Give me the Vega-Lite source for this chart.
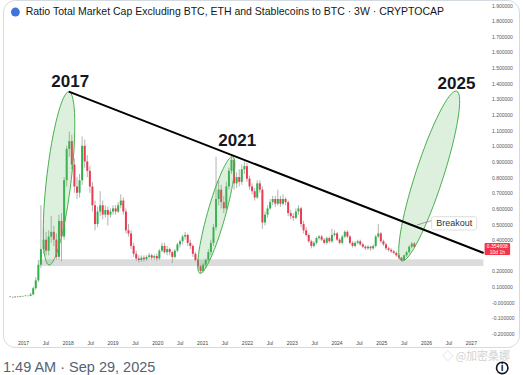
{
  "$schema": "https://vega.github.io/schema/vega-lite/v6.json",
  "width": 516,
  "height": 347,
  "padding": {"left": 3, "top": 0, "right": 4, "bottom": 0},
  "background": "white",
  "config": {
    "view": {"stroke": "#d3dbe0", "cornerRadius": 12},
    "font": "Liberation Sans",
    "axis": {"grid": false, "ticks": false, "domain": false, "labelFontSize": 5, "labelColor": "#555555", "labelOverlap": false, "labelFlush": false}
  },
  "title": {"text": "1:49 AM · Sep 29, 2025", "orient": "bottom", "anchor": "start", "fontSize": 14.5, "fontWeight": "normal", "color": "#536471", "font": "Liberation Sans", "offset": -15.5},
  "datasets": {
    "candles": [
      {"t":2016.710,"o":0.036,"h":0.039,"l":0.031,"c":0.034},
      {"t":2016.768,"o":0.034,"h":0.037,"l":0.029,"c":0.032},
      {"t":2016.825,"o":0.032,"h":0.039,"l":0.030,"c":0.036},
      {"t":2016.883,"o":0.036,"h":0.038,"l":0.031,"c":0.034},
      {"t":2016.940,"o":0.034,"h":0.041,"l":0.032,"c":0.038},
      {"t":2016.998,"o":0.038,"h":0.043,"l":0.035,"c":0.040},
      {"t":2017.055,"o":0.040,"h":0.046,"l":0.037,"c":0.042},
      {"t":2017.113,"o":0.042,"h":0.045,"l":0.036,"c":0.041},
      {"t":2017.170,"o":0.041,"h":0.060,"l":0.039,"c":0.050},
      {"t":2017.228,"o":0.050,"h":0.10,"l":0.045,"c":0.09},
      {"t":2017.285,"o":0.09,"h":0.16,"l":0.08,"c":0.14},
      {"t":2017.343,"o":0.14,"h":0.27,"l":0.13,"c":0.24},
      {"t":2017.400,"o":0.24,"h":0.62,"l":0.22,"c":0.34},
      {"t":2017.458,"o":0.34,"h":0.47,"l":0.31,"c":0.40},
      {"t":2017.515,"o":0.40,"h":0.45,"l":0.30,"c":0.33},
      {"t":2017.573,"o":0.33,"h":0.46,"l":0.30,"c":0.42},
      {"t":2017.630,"o":0.42,"h":0.55,"l":0.38,"c":0.45},
      {"t":2017.688,"o":0.45,"h":0.49,"l":0.36,"c":0.40},
      {"t":2017.745,"o":0.40,"h":0.44,"l":0.27,"c":0.29},
      {"t":2017.803,"o":0.29,"h":0.56,"l":0.27,"c":0.52},
      {"t":2017.860,"o":0.52,"h":0.57,"l":0.26,"c":0.42},
      {"t":2017.918,"o":0.42,"h":0.80,"l":0.40,"c":0.78},
      {"t":2017.975,"o":0.78,"h":1.00,"l":0.74,"c":0.98},
      {"t":2018.033,"o":0.98,"h":1.09,"l":0.93,"c":1.03},
      {"t":2018.090,"o":1.03,"h":1.07,"l":0.85,"c":0.88},
      {"t":2018.148,"o":0.88,"h":0.92,"l":0.70,"c":0.74},
      {"t":2018.205,"o":0.74,"h":0.80,"l":0.66,"c":0.70},
      {"t":2018.263,"o":0.70,"h":0.82,"l":0.67,"c":0.78},
      {"t":2018.320,"o":0.78,"h":1.06,"l":0.75,"c":1.00},
      {"t":2018.378,"o":1.00,"h":1.04,"l":0.86,"c":0.90},
      {"t":2018.435,"o":0.90,"h":0.94,"l":0.80,"c":0.84},
      {"t":2018.493,"o":0.84,"h":0.87,"l":0.70,"c":0.74},
      {"t":2018.550,"o":0.74,"h":0.77,"l":0.58,"c":0.62},
      {"t":2018.608,"o":0.62,"h":0.65,"l":0.46,"c":0.50},
      {"t":2018.665,"o":0.50,"h":0.61,"l":0.48,"c":0.58},
      {"t":2018.723,"o":0.58,"h":0.71,"l":0.55,"c":0.62},
      {"t":2018.780,"o":0.62,"h":0.65,"l":0.53,"c":0.56},
      {"t":2018.838,"o":0.56,"h":0.62,"l":0.54,"c":0.59},
      {"t":2018.895,"o":0.59,"h":0.61,"l":0.49,"c":0.56},
      {"t":2018.953,"o":0.56,"h":0.60,"l":0.54,"c":0.58},
      {"t":2019.010,"o":0.58,"h":0.62,"l":0.56,"c":0.60},
      {"t":2019.068,"o":0.60,"h":0.62,"l":0.56,"c":0.58},
      {"t":2019.125,"o":0.58,"h":0.64,"l":0.57,"c":0.62},
      {"t":2019.183,"o":0.62,"h":0.69,"l":0.60,"c":0.65},
      {"t":2019.240,"o":0.65,"h":0.67,"l":0.56,"c":0.58},
      {"t":2019.298,"o":0.58,"h":0.60,"l":0.44,"c":0.46},
      {"t":2019.355,"o":0.46,"h":0.50,"l":0.42,"c":0.44},
      {"t":2019.413,"o":0.44,"h":0.46,"l":0.34,"c":0.36},
      {"t":2019.470,"o":0.36,"h":0.38,"l":0.29,"c":0.31},
      {"t":2019.528,"o":0.31,"h":0.33,"l":0.265,"c":0.28},
      {"t":2019.585,"o":0.28,"h":0.30,"l":0.255,"c":0.27},
      {"t":2019.643,"o":0.27,"h":0.30,"l":0.26,"c":0.285},
      {"t":2019.700,"o":0.285,"h":0.30,"l":0.26,"c":0.275},
      {"t":2019.758,"o":0.275,"h":0.30,"l":0.265,"c":0.29},
      {"t":2019.815,"o":0.29,"h":0.315,"l":0.275,"c":0.30},
      {"t":2019.873,"o":0.30,"h":0.31,"l":0.27,"c":0.285},
      {"t":2019.930,"o":0.285,"h":0.305,"l":0.27,"c":0.295},
      {"t":2019.988,"o":0.295,"h":0.31,"l":0.265,"c":0.28},
      {"t":2020.045,"o":0.28,"h":0.34,"l":0.27,"c":0.33},
      {"t":2020.103,"o":0.33,"h":0.38,"l":0.32,"c":0.36},
      {"t":2020.160,"o":0.36,"h":0.38,"l":0.31,"c":0.32},
      {"t":2020.218,"o":0.32,"h":0.36,"l":0.30,"c":0.34},
      {"t":2020.275,"o":0.34,"h":0.35,"l":0.30,"c":0.32},
      {"t":2020.333,"o":0.32,"h":0.33,"l":0.25,"c":0.29},
      {"t":2020.390,"o":0.29,"h":0.34,"l":0.28,"c":0.33},
      {"t":2020.448,"o":0.33,"h":0.38,"l":0.32,"c":0.37},
      {"t":2020.505,"o":0.37,"h":0.40,"l":0.35,"c":0.39},
      {"t":2020.563,"o":0.39,"h":0.43,"l":0.37,"c":0.42},
      {"t":2020.620,"o":0.42,"h":0.45,"l":0.40,"c":0.43},
      {"t":2020.678,"o":0.43,"h":0.44,"l":0.36,"c":0.38},
      {"t":2020.735,"o":0.38,"h":0.40,"l":0.34,"c":0.36},
      {"t":2020.793,"o":0.36,"h":0.37,"l":0.29,"c":0.31},
      {"t":2020.850,"o":0.31,"h":0.32,"l":0.26,"c":0.27},
      {"t":2020.908,"o":0.27,"h":0.28,"l":0.21,"c":0.23},
      {"t":2020.965,"o":0.23,"h":0.24,"l":0.185,"c":0.20},
      {"t":2021.023,"o":0.20,"h":0.25,"l":0.19,"c":0.24},
      {"t":2021.080,"o":0.24,"h":0.28,"l":0.22,"c":0.27},
      {"t":2021.138,"o":0.27,"h":0.34,"l":0.26,"c":0.32},
      {"t":2021.195,"o":0.32,"h":0.40,"l":0.30,"c":0.38},
      {"t":2021.253,"o":0.38,"h":0.50,"l":0.36,"c":0.48},
      {"t":2021.310,"o":0.48,"h":0.93,"l":0.46,"c":0.66},
      {"t":2021.368,"o":0.66,"h":0.78,"l":0.62,"c":0.72},
      {"t":2021.425,"o":0.72,"h":0.75,"l":0.60,"c":0.64},
      {"t":2021.483,"o":0.64,"h":0.68,"l":0.57,"c":0.60},
      {"t":2021.540,"o":0.60,"h":0.77,"l":0.58,"c":0.74},
      {"t":2021.598,"o":0.74,"h":0.86,"l":0.72,"c":0.84},
      {"t":2021.655,"o":0.84,"h":0.93,"l":0.82,"c":0.91},
      {"t":2021.713,"o":0.91,"h":0.92,"l":0.72,"c":0.76},
      {"t":2021.770,"o":0.76,"h":0.83,"l":0.73,"c":0.80},
      {"t":2021.828,"o":0.80,"h":0.85,"l":0.74,"c":0.77},
      {"t":2021.885,"o":0.77,"h":0.88,"l":0.75,"c":0.85},
      {"t":2021.943,"o":0.85,"h":0.90,"l":0.82,"c":0.87},
      {"t":2022.000,"o":0.87,"h":0.89,"l":0.77,"c":0.79},
      {"t":2022.058,"o":0.79,"h":0.81,"l":0.72,"c":0.74},
      {"t":2022.115,"o":0.74,"h":0.76,"l":0.69,"c":0.71},
      {"t":2022.173,"o":0.71,"h":0.73,"l":0.65,"c":0.67},
      {"t":2022.230,"o":0.67,"h":0.78,"l":0.66,"c":0.76},
      {"t":2022.288,"o":0.76,"h":0.78,"l":0.70,"c":0.72},
      {"t":2022.345,"o":0.72,"h":0.74,"l":0.47,"c":0.51},
      {"t":2022.403,"o":0.51,"h":0.58,"l":0.49,"c":0.56},
      {"t":2022.460,"o":0.56,"h":0.62,"l":0.54,"c":0.60},
      {"t":2022.518,"o":0.60,"h":0.66,"l":0.59,"c":0.64},
      {"t":2022.575,"o":0.64,"h":0.68,"l":0.62,"c":0.66},
      {"t":2022.633,"o":0.66,"h":0.68,"l":0.61,"c":0.63},
      {"t":2022.690,"o":0.63,"h":0.72,"l":0.62,"c":0.66},
      {"t":2022.748,"o":0.66,"h":0.68,"l":0.61,"c":0.63},
      {"t":2022.805,"o":0.63,"h":0.69,"l":0.62,"c":0.66},
      {"t":2022.863,"o":0.66,"h":0.67,"l":0.62,"c":0.64},
      {"t":2022.920,"o":0.64,"h":0.65,"l":0.55,"c":0.57},
      {"t":2022.978,"o":0.57,"h":0.59,"l":0.53,"c":0.55},
      {"t":2023.035,"o":0.55,"h":0.57,"l":0.52,"c":0.54},
      {"t":2023.093,"o":0.54,"h":0.60,"l":0.53,"c":0.58},
      {"t":2023.150,"o":0.58,"h":0.62,"l":0.56,"c":0.60},
      {"t":2023.208,"o":0.60,"h":0.61,"l":0.48,"c":0.50},
      {"t":2023.265,"o":0.50,"h":0.52,"l":0.44,"c":0.46},
      {"t":2023.323,"o":0.46,"h":0.48,"l":0.42,"c":0.43},
      {"t":2023.380,"o":0.43,"h":0.44,"l":0.38,"c":0.39},
      {"t":2023.438,"o":0.39,"h":0.40,"l":0.345,"c":0.36},
      {"t":2023.495,"o":0.36,"h":0.39,"l":0.35,"c":0.38},
      {"t":2023.553,"o":0.38,"h":0.42,"l":0.37,"c":0.41},
      {"t":2023.610,"o":0.41,"h":0.43,"l":0.40,"c":0.42},
      {"t":2023.668,"o":0.42,"h":0.43,"l":0.39,"c":0.40},
      {"t":2023.725,"o":0.40,"h":0.41,"l":0.37,"c":0.38},
      {"t":2023.783,"o":0.38,"h":0.42,"l":0.37,"c":0.41},
      {"t":2023.840,"o":0.41,"h":0.42,"l":0.38,"c":0.39},
      {"t":2023.898,"o":0.39,"h":0.47,"l":0.38,"c":0.43},
      {"t":2023.955,"o":0.43,"h":0.46,"l":0.42,"c":0.44},
      {"t":2024.013,"o":0.44,"h":0.45,"l":0.39,"c":0.40},
      {"t":2024.070,"o":0.40,"h":0.41,"l":0.37,"c":0.38},
      {"t":2024.128,"o":0.38,"h":0.43,"l":0.37,"c":0.42},
      {"t":2024.185,"o":0.42,"h":0.46,"l":0.41,"c":0.45},
      {"t":2024.243,"o":0.45,"h":0.46,"l":0.41,"c":0.42},
      {"t":2024.300,"o":0.42,"h":0.43,"l":0.37,"c":0.38},
      {"t":2024.358,"o":0.38,"h":0.39,"l":0.35,"c":0.36},
      {"t":2024.415,"o":0.36,"h":0.39,"l":0.35,"c":0.38},
      {"t":2024.473,"o":0.38,"h":0.40,"l":0.37,"c":0.39},
      {"t":2024.530,"o":0.39,"h":0.40,"l":0.36,"c":0.37},
      {"t":2024.588,"o":0.37,"h":0.38,"l":0.345,"c":0.355},
      {"t":2024.645,"o":0.355,"h":0.365,"l":0.335,"c":0.345},
      {"t":2024.703,"o":0.345,"h":0.365,"l":0.335,"c":0.355},
      {"t":2024.760,"o":0.355,"h":0.36,"l":0.33,"c":0.345},
      {"t":2024.818,"o":0.345,"h":0.37,"l":0.335,"c":0.36},
      {"t":2024.875,"o":0.36,"h":0.43,"l":0.35,"c":0.42},
      {"t":2024.933,"o":0.42,"h":0.50,"l":0.41,"c":0.44},
      {"t":2024.990,"o":0.44,"h":0.45,"l":0.38,"c":0.39},
      {"t":2025.048,"o":0.39,"h":0.40,"l":0.36,"c":0.37},
      {"t":2025.105,"o":0.37,"h":0.38,"l":0.335,"c":0.345},
      {"t":2025.163,"o":0.345,"h":0.355,"l":0.325,"c":0.335},
      {"t":2025.220,"o":0.335,"h":0.345,"l":0.315,"c":0.325},
      {"t":2025.278,"o":0.325,"h":0.335,"l":0.305,"c":0.315},
      {"t":2025.335,"o":0.315,"h":0.325,"l":0.29,"c":0.30},
      {"t":2025.393,"o":0.30,"h":0.31,"l":0.275,"c":0.285},
      {"t":2025.450,"o":0.285,"h":0.29,"l":0.262,"c":0.27},
      {"t":2025.508,"o":0.27,"h":0.305,"l":0.265,"c":0.30},
      {"t":2025.565,"o":0.30,"h":0.33,"l":0.29,"c":0.32},
      {"t":2025.623,"o":0.32,"h":0.365,"l":0.31,"c":0.355},
      {"t":2025.680,"o":0.355,"h":0.385,"l":0.345,"c":0.375},
      {"t":2025.738,"o":0.375,"h":0.385,"l":0.345,"c":0.354}
    ]
  },
  "layer": [
    {
      "data": {"values": [{}]},
      "mark": {"type": "rect", "color": "#dcdcdc"},
      "encoding": {
        "x": {"datum": 2017.366, "type": "quantitative", "scale": {"domain": [2016.665, 2027.963], "nice": false, "zero": false},
          "axis": {"orient": "bottom", "offset": -8, "labelPadding": 1, "labelColor": "#444444", "tickCount": 200, "labelOverlap": false, "labelFlush": false, "labelBound": false, "values": [2017,2017.5,2018,2018.5,2019,2019.5,2020,2020.5,2021,2021.5,2022,2022.5,2023,2023.5,2024,2024.5,2025,2025.5,2026,2026.5,2027],
            "labelExpr": "datum.value == floor(datum.value) ? format(datum.value, 'd') : 'Jul'"}},
        "x2": {"datum": 2027.28},
        "y": {"datum": 0.232, "type": "quantitative", "scale": {"domain": [-0.286, 1.932], "nice": false, "zero": false},
          "axis": {"orient": "right", "offset": -30, "labelPadding": 2.5, "tickCount": 200, "labelOverlap": false, "labelFlush": false, "labelBound": false, "values": [-0.2,-0.1,0,0.1,0.2,0.4,0.5,0.6,0.7,0.8,0.9,1.0,1.1,1.2,1.3,1.4,1.5,1.6,1.7,1.8,1.9],
            "labelExpr": "(datum.value <= 0 ? '-' : '') + format(abs(datum.value), '.6f')"}},
        "y2": {"datum": 0.275}
      }
    },
    {
      "data": {"name": "candles"},
      "mark": {"type": "rule", "color": "#9e9e9e", "strokeWidth": 0.8},
      "encoding": {
        "x": {"field": "t", "type": "quantitative", "title": null},
        "y": {"field": "l", "type": "quantitative", "title": null},
        "y2": {"field": "h"}
      }
    },
    {
      "data": {"name": "candles"},
      "mark": {"type": "bar", "size": 2},
      "encoding": {
        "x": {"field": "t", "type": "quantitative", "title": null},
        "y": {"field": "o", "type": "quantitative", "title": null},
        "y2": {"field": "c"},
        "color": {"condition": {"test": "datum.c >= datum.o", "value": "#2fb24c"}, "value": "#ec3a50"}
      }
    },
    {
      "data": {"values": [{}]},
      "mark": {"type": "point", "filled": false, "shape": "M 0.1146 -0.9934 A 1 0.142 -83.42 0 1 -0.1146 0.9934 A 1 0.142 -83.42 0 1 0.1146 -0.9934 Z", "size": 30433, "fill": "#66bb6a", "fillOpacity": 0.22, "stroke": "#4caf50", "strokeWidth": 1, "opacity": 1},
      "encoding": {"x": {"datum": 2017.804}, "y": {"datum": 0.792}}
    },
    {
      "data": {"values": [{}]},
      "mark": {"type": "point", "filled": false, "shape": "M 0.270 -0.963 A 1 0.149 -74.33 0 1 -0.270 0.963 A 1 0.149 -74.33 0 1 0.270 -0.963 Z", "size": 14665, "fill": "#66bb6a", "fillOpacity": 0.22, "stroke": "#4caf50", "strokeWidth": 1, "opacity": 1},
      "encoding": {"x": {"datum": 2021.315}, "y": {"datum": 0.558}}
    },
    {
      "data": {"values": [{}]},
      "mark": {"type": "point", "filled": false, "shape": "M 0.3083 -0.9513 A 1 0.155 -72.04 0 1 -0.3083 0.9513 A 1 0.155 -72.04 0 1 0.3083 -0.9513 Z", "size": 31827, "fill": "#66bb6a", "fillOpacity": 0.22, "stroke": "#4caf50", "strokeWidth": 1, "opacity": 1},
      "encoding": {"x": {"datum": 2026.069}, "y": {"datum": 0.807}}
    },
    {
      "data": {"values": [{}]},
      "mark": {"type": "rule", "color": "#000000", "strokeWidth": 2},
      "encoding": {"x": {"datum": 2018.023}, "x2": {"datum": 2027.285}, "y": {"datum": 1.346}, "y2": {"datum": 0.315}}
    },
    {
      "data": {"values": [{}]},
      "mark": {"type": "rule", "color": "#8a8a8a", "strokeWidth": 0.8},
      "encoding": {"x": {"datum": 2025.796}, "x2": {"datum": 2026.124}, "y": {"datum": 0.494}, "y2": {"datum": 0.522}}
    },
    {
      "data": {"values": [{}]},
      "mark": {"type": "rect", "fill": "#ffffff", "stroke": "#d5d5d5", "strokeWidth": 0.8, "cornerRadius": 2},
      "encoding": {"x": {"datum": 2026.124}, "x2": {"datum": 2027.131}, "y": {"datum": 0.462}, "y2": {"datum": 0.547}}
    },
    {
      "data": {"values": [{}]},
      "mark": {"type": "text", "text": "Breakout", "fontSize": 9, "color": "#333333", "align": "center", "baseline": "middle"},
      "encoding": {"x": {"datum": 2026.628}, "y": {"datum": 0.505}}
    },
    {
      "data": {"values": [{}]},
      "mark": {"type": "text", "text": "2017", "fontSize": 17, "fontWeight": "bold", "color": "#131722", "align": "center", "baseline": "middle"},
      "encoding": {"x": {"datum": 2018.055}, "y": {"datum": 1.41}}
    },
    {
      "data": {"values": [{}]},
      "mark": {"type": "text", "text": "2021", "fontSize": 17, "fontWeight": "bold", "color": "#131722", "align": "center", "baseline": "middle"},
      "encoding": {"x": {"datum": 2021.782}, "y": {"datum": 1.031}}
    },
    {
      "data": {"values": [{}]},
      "mark": {"type": "text", "text": "2025", "fontSize": 17, "fontWeight": "bold", "color": "#131722", "align": "center", "baseline": "middle"},
      "encoding": {"x": {"datum": 2026.678}, "y": {"datum": 1.392}}
    },
    {
      "data": {"values": [{}]},
      "mark": {"type": "point", "filled": true, "size": 80, "color": "#3f74e0", "opacity": 1},
      "encoding": {"x": {"datum": 2016.83}, "y": {"datum": 1.855}}
    },
    {
      "data": {"values": [{}]},
      "mark": {"type": "text", "text": "Ratio Total Market Cap Excluding BTC, ETH and Stablecoins to BTC · 3W · CRYPTOCAP", "fontSize": 10.5, "color": "#131722", "align": "left", "baseline": "middle"},
      "encoding": {"x": {"datum": 2017.06}, "y": {"datum": 1.855}}
    },
    {
      "data": {"values": [{}]},
      "mark": {"type": "rect", "fill": "#f23645", "cornerRadius": 1},
      "encoding": {"x": {"datum": 2027.307}, "x2": {"datum": 2027.876}, "y": {"datum": 0.302}, "y2": {"datum": 0.379}}
    },
    {
      "data": {"values": [{}]},
      "mark": {"type": "text", "text": "0.354608", "fontSize": 5, "color": "#ffffff", "align": "center", "baseline": "middle"},
      "encoding": {"x": {"datum": 2027.59}, "y": {"datum": 0.358}}
    },
    {
      "data": {"values": [{}]},
      "mark": {"type": "text", "text": "10d 1h", "fontSize": 5, "color": "#ffffff", "align": "center", "baseline": "middle"},
      "encoding": {"x": {"datum": 2027.59}, "y": {"datum": 0.324}}
    },
    {
      "data": {"values": [{}]},
      "mark": {"type": "text", "text": "◇ @加密桑娜", "font": "Noto Sans CJK SC", "fontSize": 11, "color": "#d2d2d2", "align": "right", "baseline": "middle"},
      "encoding": {"x": {"datum": 2027.876}, "y": {"datum": -0.35}}
    },
    {
      "data": {"values": [{}]},
      "mark": {"type": "point", "shape": "circle", "filled": false, "size": 130, "stroke": "#0f1419", "strokeWidth": 1.6, "opacity": 1},
      "encoding": {"x": {"datum": 2027.70}, "y": {"datum": -0.42}}
    },
    {
      "data": {"values": [{}]},
      "mark": {"type": "text", "text": "i", "fontSize": 10, "fontWeight": "bold", "color": "#0f1419", "align": "center", "baseline": "middle"},
      "encoding": {"x": {"datum": 2027.70}, "y": {"datum": -0.42}}
    }
  ]
}
